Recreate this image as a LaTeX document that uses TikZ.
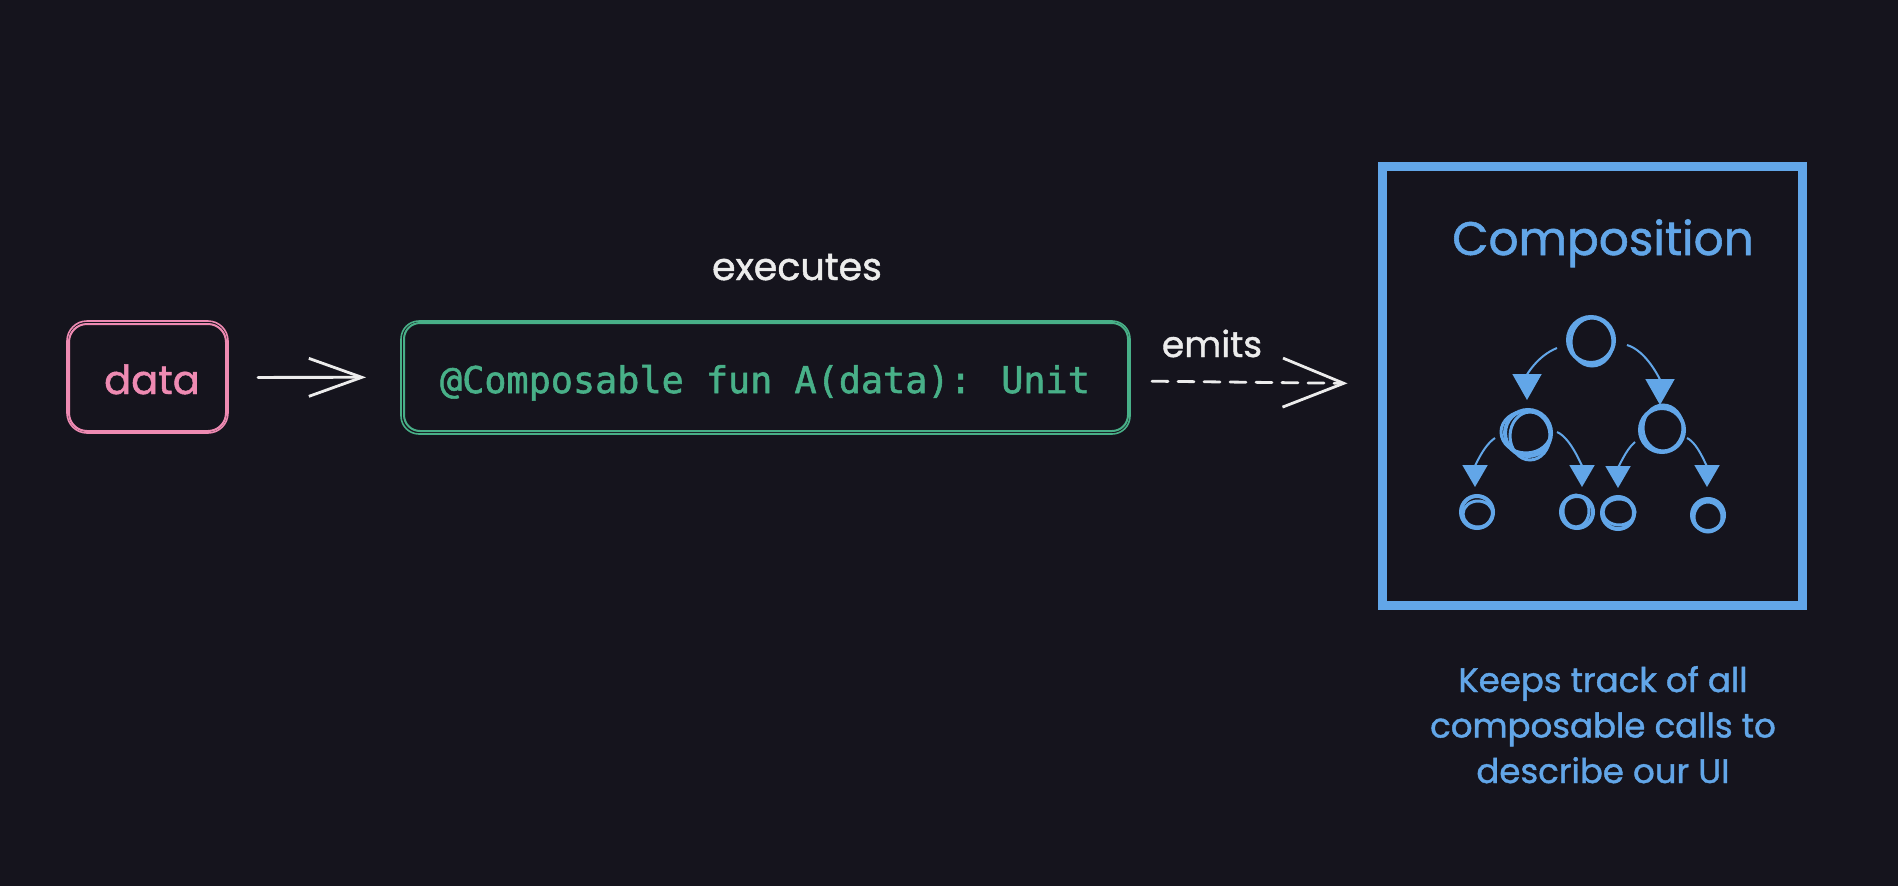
\documentclass[tikz,border=0pt]{standalone}
\usepackage{fontspec}
\usetikzlibrary{arrows.meta}
\newfontfamily\handfont{Poppins}[FakeBold=1.2]
\newfontfamily\codefont{DejaVu Sans Mono}[FakeBold=1.5]
\definecolor{bgc}{RGB}{21,20,29}
\definecolor{pinkc}{RGB}{238,138,178}
\definecolor{greenc}{RGB}{72,176,136}
\definecolor{bluec}{RGB}{98,166,232}
\definecolor{whitec}{RGB}{236,236,236}
\begin{document}
\begin{tikzpicture}[x=1pt,y=-1pt,
  every node/.style={outer sep=0pt},
  pinkbox/.style={draw=pinkc, line width=2pt, rounded corners=18pt, minimum width=157pt, minimum height=107pt, inner sep=0pt},
  codebox/.style={draw=greenc, line width=2pt, rounded corners=16pt, minimum width=724pt, minimum height=108pt, inner sep=0pt},
  compbox/.style={draw=bluec, line width=9pt, minimum width=420pt, minimum height=439pt, inner sep=0pt},
  hand/.style={font=\handfont\fontsize{#1}{#1}\selectfont, inner sep=0pt, anchor=base},
  conn/.style={draw=whitec, line width=2.8pt, line cap=round},
  tnode/.style={circle, draw=bluec, line width=4pt, minimum size=#1, inner sep=0pt},
  doodle/.style={draw=bluec, line width=3pt},
  tarrow/.style={draw=bluec, line width=2pt, -{Triangle[length=#1,width=#1+3pt]}},
]
\fill[bgc] (0,0) rectangle (1898,886);
\useasboundingbox (0,0) rectangle (1898,886);

% data box
\node[pinkbox] (data) at (147.5,377.5) {};
\draw[pinkc, line width=1.6pt, rounded corners=20pt] ([shift={(-2,-3)}]data.north west) rectangle ([shift={(2,2)}]data.south east);
\node[hand=40, text=pinkc] (datat) at (152,394) {data};

% code box
\node[codebox] (code) at (766,377) {};
\draw[greenc, line width=1.6pt, rounded corners=18pt] ([shift={(-3,-2)}]code.north west) rectangle ([shift={(2,3)}]code.south east);
\node[font=\codefont\fontsize{36.8}{40}\selectfont, text=greenc, inner sep=0pt, anchor=base] (codet) at (765,393) {@Composable fun A(data): Unit};

% labels
\node[hand=38, text=whitec] (exec) at (797,280) {executes};
\node[hand=36, text=whitec] (emits) at (1212,357) {emits};

% composition box
\node[compbox] (comp) at (1592.5,386) {};
\node[hand=47, text=bluec] (compt) at (1603,255) {Composition};

% connectors
\draw[conn, -{Straight Barb[length=53pt,width=38pt,line width=2.8pt]}, shorten <=32pt, shorten >=38pt] (data) -- (code);
\draw[conn, dash pattern=on 16pt off 10pt, -{Straight Barb[length=61pt,width=49pt,line width=2.8pt]}, shorten <=24pt, shorten >=35pt] (code) -- (comp);

% tree
\node[tnode=46pt] (root) at (1591,340) {};
\node[tnode=46pt] (la) at (1528,433) {};
\node[tnode=44pt] (lb) at (1662,430) {};
\node[tnode=32pt] (ca) at (1477,512) {};
\node[tnode=32pt] (cb) at (1577,512) {};
\node[tnode=32pt] (cc) at (1618,513) {};
\node[tnode=32pt] (cd) at (1708,515) {};
\draw[doodle] ([shift={(1,2)}]root.center) circle[x radius=21pt, y radius=24pt];
\draw[doodle] ([shift={(-2,-1)}]la.center) circle[x radius=25pt, y radius=21pt];
\draw[doodle] ([shift={(2,3)}]la.center) circle[x radius=20pt, y radius=24pt];
\draw[doodle] ([shift={(1,-2)}]lb.center) circle[x radius=20pt, y radius=23pt];
\draw[doodle] ([shift={(1,2)}]ca.center) circle[x radius=15pt, y radius=13pt];
\draw[doodle] ([shift={(-1,-1)}]cb.center) circle[x radius=13pt, y radius=16pt];
\draw[doodle] ([shift={(1,-1)}]cc.center) circle[x radius=16pt, y radius=13pt];
\draw[doodle] ([shift={(0,2)}]cd.center) circle[x radius=14pt, y radius=15pt];

\draw[tarrow=26pt] ([shift={(-34,8)}]root.center) .. controls +(-20,8) and +(0,-25) .. ([shift={(-1,-33)}]la.center);
\draw[tarrow=26pt] ([shift={(36,5)}]root.center) .. controls +(20,6) and +(0,-25) .. ([shift={(-2,-25)}]lb.center);
\draw[tarrow=22pt] ([shift={(-33,5)}]la.center) .. controls +(-12,8) and +(0,-20) .. ([shift={(-2,-25)}]ca.center);
\draw[tarrow=22pt] ([shift={(29,-1)}]la.center) .. controls +(14,6) and +(0,-20) .. ([shift={(5,-25)}]cb.center);
\draw[tarrow=22pt] ([shift={(-27,12)}]lb.center) .. controls +(-10,8) and +(0,-18) .. ([shift={(0,-25)}]cc.center);
\draw[tarrow=22pt] ([shift={(25,8)}]lb.center) .. controls +(12,6) and +(0,-18) .. ([shift={(-1,-28)}]cd.center);

% caption
\node[font=\handfont\fontsize{34}{45.5}\selectfont, text=bluec, align=center, inner sep=0pt, anchor=base] (cap) at (1603,783) {Keeps track of all\\composable calls to\\describe our UI};
\end{tikzpicture}
\end{document}
